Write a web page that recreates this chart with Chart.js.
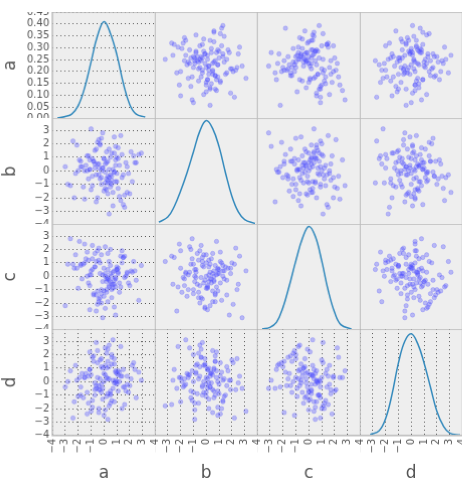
<!DOCTYPE html>
<html>
<head>
<meta charset="UTF-8">
<script src="https://cdn.jsdelivr.net/npm/chart.js"></script>
<style>
  body { margin: 0; background: #fff; }
  #wrap { position: relative; width: 474px; height: 482px; }
  .cell { position: absolute; }
</style>
</head>
<body>
<div id="wrap"></div>
<script>
const names = ['a', 'b', 'c', 'd'];

const valsA = [0.5,-1.2,0.3,1.8,-0.4,0.9,-2.1,0.1,-0.7,1.3,0.6,-1.5,-0.2,2.4,0.8,-0.9,0.0,1.1,-1.8,0.4,
-0.3,1.6,-1.1,0.7,-2.6,0.2,1.0,-0.5,0.3,-1.4,2.0,-0.8,0.5,1.4,-0.1,-2.3,0.9,-0.6,1.7,0.2,
-1.0,0.6,-0.2,2.7,-1.6,0.1,0.8,-0.4,1.2,-0.9,0.3,-3.0,1.5,-0.7,0.4,2.2,-1.3,0.0,0.9,-0.3,
1.9,-1.9,0.6,-0.1,1.1,-0.6,-1.2,0.2,2.9,-0.4,0.7,-2.0,1.3,0.1,-0.8,0.5,-1.7,1.0,-0.2,0.4,
2.1,-1.1,0.3,-0.5,1.6,-2.4,0.8,0.0,-0.9,1.2,-0.3,0.6,-1.5,2.5,-0.7,0.2,1.4,-1.0,0.9,-0.1,
-2.2,0.5,1.8,-0.6,0.1,-1.3,0.7,2.3,-0.4,1.0,-1.8,0.3,-0.2,1.5,-1.1,0.8,-2.8,0.4,1.1,-0.5];
const valsB = [-0.3,1.1,0.7,-1.6,0.2,-0.8,1.9,-0.1,0.5,-2.2,1.3,0.0,-1.0,0.6,2.5,-0.4,0.9,-1.3,0.3,1.6,
-0.6,-2.7,0.8,0.1,-1.1,1.4,-0.2,2.1,-0.9,0.4,-1.7,0.7,1.0,-0.5,0.2,-2.0,1.8,-0.3,0.6,-1.4,
3.1,-0.7,0.0,1.2,-1.2,0.5,-0.1,2.3,-1.9,0.9,-0.4,0.3,-2.5,1.5,0.1,-0.8,1.1,-1.5,0.4,2.0,
-0.2,0.8,-1.0,0.2,1.7,-2.3,-0.6,0.6,1.3,-0.3,-1.6,0.0,2.6,-0.9,0.7,-1.2,0.3,1.0,-0.5,-3.2,
1.4,0.1,-0.7,0.5,-1.8,2.2,-0.1,0.9,-1.1,0.4,1.9,-0.4,-2.1,0.6,0.2,-0.6,1.2,-1.4,0.8,2.8,
-0.2,-0.9,0.3,1.6,-1.3,0.0,-2.6,1.1,0.5,-0.8,0.7,-1.7,2.4,-0.3,0.1,1.3,-1.0,-0.5,0.9,-2.0];
const valsC = [0.8,-0.5,-1.9,0.2,1.2,-0.1,0.6,-2.4,1.7,-0.8,0.0,1.0,-1.3,0.4,-0.6,2.3,-1.1,0.3,0.9,-0.3,
-1.6,1.5,0.1,-0.9,2.8,-0.2,0.7,-2.1,0.5,1.3,-0.7,-1.4,0.2,1.9,-0.4,0.6,-2.9,1.1,0.0,-1.0,
0.4,-0.6,1.6,-1.8,0.9,0.2,-0.3,2.1,-1.2,0.5,-0.1,-2.2,1.4,0.7,-0.8,0.3,1.8,-1.5,-0.2,1.0,
-0.5,2.6,-1.0,0.1,0.6,-2.6,1.2,-0.4,0.8,-1.7,0.3,-0.9,1.5,0.0,-1.3,2.0,-0.2,0.5,-2.0,1.1,
0.4,-0.7,1.7,-1.1,-0.1,0.9,-2.3,0.6,1.3,-0.5,0.2,-1.6,2.4,-0.3,0.7,-1.2,1.0,0.1,-0.8,-3.1,
1.6,-0.4,0.3,-1.4,2.2,0.0,-0.6,1.1,-1.9,0.5,0.8,-0.2,-1.0,1.4,-2.5,0.4,0.9,-0.7,0.2,1.9];
const valsD = [-1.0,0.4,1.5,-0.2,-2.0,0.7,0.1,1.2,-0.6,2.6,-1.4,0.3,-0.8,0.9,-0.1,1.8,-2.5,0.5,-0.4,1.1,
0.2,-1.7,2.2,-0.5,0.8,-1.1,0.0,1.4,-2.8,0.6,-0.3,1.9,-0.9,0.4,1.0,-1.5,0.1,2.9,-0.7,0.3,
-2.2,1.3,-0.2,0.7,-1.2,0.5,1.7,-0.6,0.0,-1.9,2.4,-0.4,0.9,-1.0,0.2,1.2,-2.4,0.6,-0.1,1.6,
-0.8,0.3,2.0,-1.3,0.8,-0.5,-1.6,1.0,0.1,-0.3,3.1,-1.1,0.4,-2.1,1.5,-0.7,0.6,-0.2,1.1,-1.8,
0.2,0.9,-0.9,2.3,-0.4,-2.7,1.3,0.0,-1.4,0.7,-0.6,1.8,0.3,-1.2,-0.1,2.1,-2.0,0.5,0.8,-0.5,
1.2,-1.6,0.4,-0.3,2.5,-0.8,0.1,1.4,-2.3,0.6,-1.0,0.2,1.7,-0.4,0.9,-1.5,0.0,2.7,-0.7,0.3];

// density curves on the diagonal
const kdeAx = [-3.6,-3,-2.5,-2,-1.5,-1,-0.5,0,0.5,1,1.5,2,2.5,3.2];
const kdeAy = [0.003,0.01,0.02,0.055,0.13,0.24,0.35,0.41,0.36,0.27,0.15,0.06,0.02,0.008];
const kdeBx = [-3.7,-3,-2.5,-2,-1.5,-1,-0.5,0,0.5,1,1.5,2,2.5,3,3.8];
const kdeBy = [0.01,0.03,0.07,0.13,0.2,0.28,0.36,0.4,0.37,0.3,0.2,0.11,0.05,0.02,0.005];
const kdeCx = [-3.6,-3,-2.5,-2,-1.5,-1,-0.5,0,0.5,1,1.5,2,2.5,3.3];
const kdeCy = [0.003,0.01,0.03,0.09,0.18,0.28,0.37,0.42,0.38,0.28,0.16,0.07,0.02,0.003];
const kdeDx = [-3.2,-2.5,-2,-1.5,-1,-0.5,0,0.5,1,1.5,2,2.5,3,3.8];
const kdeDy = [0.004,0.02,0.07,0.17,0.3,0.39,0.42,0.38,0.3,0.2,0.1,0.04,0.01,0.002];
const kdeMax = [0.45, 0.41, 0.43, 0.44];

const densTicks = [0, 0.05, 0.1, 0.15, 0.2, 0.25, 0.3, 0.35, 0.4, 0.45];
const valTicks = [-4, -3, -2, -1, 0, 1, 2, 3, 4];

const vals = [valsA, valsB, valsC, valsD];
const kdes = [[kdeAx, kdeAy], [kdeBx, kdeBy], [kdeCx, kdeCy], [kdeDx, kdeDy]];

const L = 52, T = 12, W = 102.5, H = 105.75;
const LEFT_AX = 52, BOT_AX = 48;
const txt = '#555';
const fontFam = '"DejaVu Sans", sans-serif';

const panelBg = {
  id: 'panelBg',
  beforeDraw(chart) {
    const a = chart.chartArea, c = chart.ctx;
    c.save();
    c.fillStyle = '#eeeeee';
    c.fillRect(a.left, a.top, a.right - a.left, a.bottom - a.top);
    c.restore();
  },
  afterDraw(chart) {
    const a = chart.chartArea, c = chart.ctx;
    c.save();
    c.strokeStyle = '#bcbcbc';
    c.lineWidth = 1.5;
    c.strokeRect(a.left, a.top, a.right - a.left, a.bottom - a.top);
    c.restore();
  }
};

function fmtNum(v, dec) {
  return v.toFixed(dec).replace('-', '\u2212');
}

function noPad(s) {
  s.paddingLeft = 0; s.paddingRight = 0; s.paddingTop = 0; s.paddingBottom = 0;
}

const wrap = document.getElementById('wrap');

for (let r = 0; r < 4; r++) {
  for (let col = 0; col < 4; col++) {
    const isLeft = col === 0, isBottom = r === 3, isDiag = r === col;
    const div = document.createElement('div');
    div.className = 'cell';
    const x0 = L + col * W - (isLeft ? LEFT_AX : 0);
    const w = W + (isLeft ? LEFT_AX : 0);
    const h = H + (isBottom ? BOT_AX : 0);
    div.style.left = x0 + 'px';
    div.style.top = (T + r * H) + 'px';
    div.style.width = w + 'px';
    div.style.height = h + 'px';
    const cv = document.createElement('canvas');
    div.appendChild(cv);
    wrap.appendChild(div);

    let datasets;
    let yMin = -4, yMax = 3.9;
    if (isDiag) {
      const [kx, ky] = kdes[r];
      datasets = [{
        type: 'line',
        data: kx.map((x, i) => ({ x: x, y: ky[i] })),
        borderColor: '#348abd',
        borderWidth: 1.5,
        pointRadius: 0,
        tension: 0.4,
        fill: false
      }];
      yMin = 0; yMax = kdeMax[r];
    } else {
      datasets = [{
        type: 'scatter',
        data: vals[col].map((x, i) => ({ x: x, y: vals[r][i] })),
        backgroundColor: 'rgba(80,80,255,0.35)',
        borderColor: 'rgba(80,80,255,0.45)',
        borderWidth: 0.5,
        pointRadius: 2.2
      }];
    }

    const densAxis = isDiag && r === 0;
    const yTicksList = densAxis ? densTicks : valTicks.slice(0, 8);

    new Chart(cv, {
      type: 'scatter',
      data: { datasets: datasets },
      plugins: [panelBg],
      options: {
        responsive: true,
        maintainAspectRatio: false,
        animation: false,
        layout: { padding: 0, autoPadding: false },
        plugins: { legend: { display: false }, tooltip: { enabled: false } },
        scales: {
          x: {
            type: 'linear',
            min: -4, max: 4,
            display: true,
            afterBuildTicks(s) { s.ticks = valTicks.map(v => ({ value: v })); },
            afterFit(s) { s.height = isBottom ? BOT_AX : 0; noPad(s); },
            grid: {
              display: isBottom,
              color: '#333',
              lineWidth: 0.8,
              drawTicks: false
            },
            border: { display: false, dash: [1, 3] },
            ticks: {
              display: isBottom,
              autoSkip: false,
              minRotation: 90, maxRotation: 90,
              padding: 3,
              color: txt,
              font: { family: fontFam, size: 10 },
              callback: v => fmtNum(v, 0)
            },
            title: {
              display: isBottom,
              text: names[col],
              color: txt,
              padding: 0,
              font: { family: fontFam, size: 17 }
            }
          },
          y: {
            type: 'linear',
            min: yMin, max: yMax,
            display: true,
            afterBuildTicks(s) {
              if (densAxis || !isDiag) s.ticks = yTicksList.map(v => ({ value: v }));
            },
            afterFit(s) { s.width = isLeft ? LEFT_AX : 0; noPad(s); },
            grid: {
              display: isLeft,
              color: '#333',
              lineWidth: 0.8,
              drawTicks: false
            },
            border: { display: false, dash: [1, 3] },
            ticks: {
              display: isLeft,
              autoSkip: false,
              padding: 3,
              color: txt,
              font: { family: fontFam, size: 10 },
              callback: v => densAxis ? fmtNum(v, 2) : fmtNum(v, 0)
            },
            title: {
              display: isLeft,
              text: names[r],
              color: txt,
              padding: 0,
              font: { family: fontFam, size: 17 }
            }
          }
        }
      }
    });
  }
}
</script>
</body>
</html>
